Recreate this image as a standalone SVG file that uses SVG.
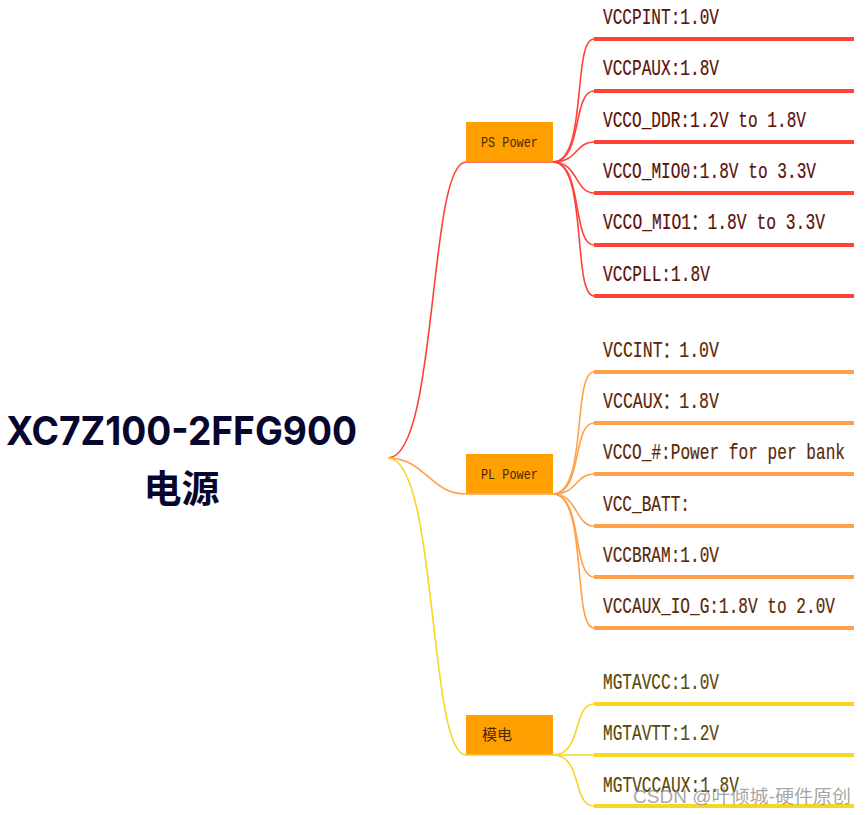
<svg xmlns="http://www.w3.org/2000/svg" width="865" height="815" viewBox="0 0 865 815">
<style>
.c{fill:none;stroke-width:1.6}
.l{fill:none;stroke-width:4}
.r{stroke:#ff4238}.o{stroke:#ffa04a}.y{stroke:#f8d523}
.b{fill:#ffa000}
.t{font-family:"Liberation Mono","Noto Sans CJK SC",monospace;font-size:22px;stroke-width:.2}
.tr{fill:#5a1208;stroke:#5a1208}.to{fill:#5a2808;stroke:#5a2808}.ty{fill:#5a4808;stroke:#5a4808}
.n{font-family:"Liberation Mono","Noto Sans CJK SC",monospace;font-size:15px;fill:#4a2a00}
.h{font-family:Inter,"Noto Sans CJK SC",sans-serif;font-weight:700;font-size:40px;fill:#06062e}
</style>
<rect width="865" height="815" fill="#fff"/>
<g id="connectors">
<path class="c r" d="M388,458C438,458 428,162 466,162H553"/>
<path class="c o" d="M388,458C425,458 430,494 466,494H553"/>
<path class="c y" d="M388,458C438,458 428,755 466,755H553"/>
<path class="c r" d="M553,162C588,162 572,39 594,39"/>
<path class="c r" d="M553,162C583,162 572,91 594,91"/>
<path class="c r" d="M553,162C578,162 575,142 594,142"/>
<path class="c r" d="M553,162C578,162 575,193 594,193"/>
<path class="c r" d="M553,162C583,162 572,245 594,245"/>
<path class="c r" d="M553,162C588,162 572,296 594,296"/>
<path class="c o" d="M553,494C588,494 572,372 594,372"/>
<path class="c o" d="M553,494C583,494 572,423 594,423"/>
<path class="c o" d="M553,494C578,494 575,474 594,474"/>
<path class="c o" d="M553,494C578,494 575,526 594,526"/>
<path class="c o" d="M553,494C583,494 572,577 594,577"/>
<path class="c o" d="M553,494C588,494 572,628 594,628"/>
<path class="c y" d="M553,755C583,755 572,704 594,704"/>
<path class="c y" d="M553,755H594"/>
<path class="c y" d="M553,755C583,755 572,806 594,806"/>
<path class="l r" d="M594,39H854M594,91H854M594,142H854M594,193H854M594,245H854M594,296H854"/>
<path class="l o" d="M594,372H854M594,423H854M594,474H854M594,526H854M594,577H854M594,628H854"/>
<path class="l y" d="M594,704H854M594,755H854M594,806H854"/>
</g>
<g id="root"><text class="h" x="6" y="445" textLength="351" lengthAdjust="spacingAndGlyphs">XC7Z100-2FFG900</text><text class="h" x="181.500" y="502" text-anchor="middle" style="font-size:38px">电源</text></g>
<g id="ps"><rect class="b" x="466" y="122" width="87" height="39.500"/><text class="n" x="481" y="147" textLength="57" lengthAdjust="spacingAndGlyphs">PS Power</text></g>
<g id="pl"><rect class="b" x="466" y="454" width="87" height="39.500"/><text class="n" x="481" y="479" textLength="57" lengthAdjust="spacingAndGlyphs">PL Power</text></g>
<g id="analog"><rect class="b" x="466" y="715" width="87" height="39.500"/><text class="n" x="482" y="740">模电</text></g>
<g id="ps1"><text class="t tr" x="603" y="24" textLength="116" lengthAdjust="spacingAndGlyphs">VCCPINT:1.0V</text></g>
<g id="ps2"><text class="t tr" x="603" y="75" textLength="116" lengthAdjust="spacingAndGlyphs">VCCPAUX:1.8V</text></g>
<g id="ps3"><text class="t tr" x="603" y="127" textLength="203" lengthAdjust="spacingAndGlyphs">VCCO_DDR:1.2V to 1.8V</text></g>
<g id="ps4"><text class="t tr" x="603" y="178" textLength="213" lengthAdjust="spacingAndGlyphs">VCCO_MIO0:1.8V to 3.3V</text></g>
<g id="ps5"><text class="t tr" x="603" y="229" textLength="222" lengthAdjust="spacingAndGlyphs">VCCO_MIO1：1.8V to 3.3V</text></g>
<g id="ps6"><text class="t tr" x="603" y="281" textLength="107" lengthAdjust="spacingAndGlyphs">VCCPLL:1.8V</text></g>
<g id="pl1"><text class="t to" x="603" y="357" textLength="116" lengthAdjust="spacingAndGlyphs">VCCINT：1.0V</text></g>
<g id="pl2"><text class="t to" x="603" y="408" textLength="116" lengthAdjust="spacingAndGlyphs">VCCAUX：1.8V</text></g>
<g id="pl3"><text class="t to" x="603" y="459" textLength="242" lengthAdjust="spacingAndGlyphs">VCCO_#:Power for per bank</text></g>
<g id="pl4"><text class="t to" x="603" y="511" textLength="87" lengthAdjust="spacingAndGlyphs">VCC_BATT:</text></g>
<g id="pl5"><text class="t to" x="603" y="562" textLength="116" lengthAdjust="spacingAndGlyphs">VCCBRAM:1.0V</text></g>
<g id="pl6"><text class="t to" x="603" y="613" textLength="232" lengthAdjust="spacingAndGlyphs">VCCAUX_IO_G:1.8V to 2.0V</text></g>
<g id="an1"><text class="t ty" x="603" y="689" textLength="116" lengthAdjust="spacingAndGlyphs">MGTAVCC:1.0V</text></g>
<g id="an2"><text class="t ty" x="603" y="740" textLength="116" lengthAdjust="spacingAndGlyphs">MGTAVTT:1.2V</text></g>
<g id="an3"><text class="t ty" x="603" y="792" textLength="136" lengthAdjust="spacingAndGlyphs">MGTVCCAUX:1.8V</text></g>
<text x="633" y="803" font-family="'Liberation Sans','Noto Sans CJK SC',sans-serif" font-size="18" fill="#888" fill-opacity=".75" textLength="218" lengthAdjust="spacingAndGlyphs">CSDN @叶倾城-硬件原创</text>
</svg>
